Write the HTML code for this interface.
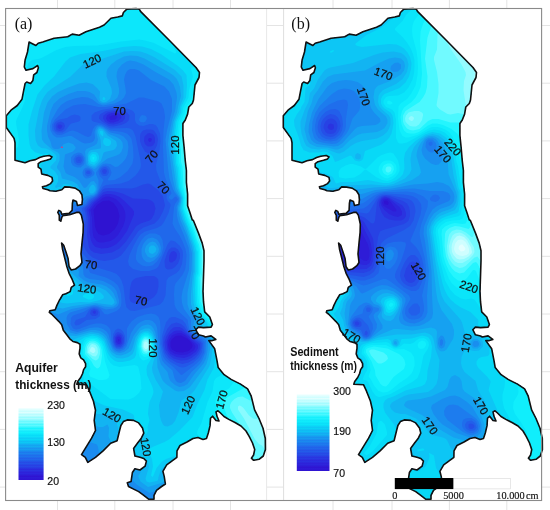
<!DOCTYPE html>
<html><head><meta charset="utf-8"><style>
html,body{margin:0;padding:0;background:#fff;}
body{width:550px;height:510px;overflow:hidden;position:relative;}
svg{position:absolute;left:0;top:0;}
.t{position:absolute;white-space:nowrap;line-height:1;}
</style></head><body>
<svg width="550" height="510" viewBox="0 0 550 510"><defs><clipPath id="ca"><path d="M29.1 42.0 L31.4 43.2 L35.9 45.5 L38.2 43.2 L42.7 42.0 L49.5 39.8 L54.1 38.2 L60.9 37.5 L67.7 36.8 L72.3 34.1 L79.1 35.2 L85.9 31.8 L92.7 29.5 L99.5 27.3 L104.1 25.0 L106.4 22.7 L110.9 18.2 L117.7 17.0 L122.3 15.9 L123.4 12.5 L126.8 9.1 L135.9 8.6 L139.3 9.1 L140.5 11.4 L168.0 39.0 L196.0 67.5 L199.5 72.5 L199.0 77.5 L195.0 85.0 L194.0 95.0 L193.5 100.0 L192.3 103.5 L188.8 107.0 L187.6 114.1 L185.3 120.0 L182.9 123.5 L182.9 135.3 L184.1 147.0 L185.3 161.1 L186.4 170.5 L186.4 182.3 L187.6 194.0 L187.6 205.8 L190.0 212.8 L192.3 219.9 L193.3 220.2 L198.4 232.9 L202.2 243.1 L204.0 250.7 L204.0 260.9 L203.5 276.2 L203.0 291.5 L203.5 301.7 L204.7 311.9 L209.8 317.0 L212.4 324.6 L211.1 327.1 L203.5 327.6 L198.4 327.1 L195.8 329.7 L198.4 334.8 L203.5 336.0 L205.3 337.0 L211.1 335.9 L215.8 339.4 L212.3 340.6 L208.8 340.6 L214.7 348.8 L217.0 360.6 L218.2 367.6 L224.1 374.7 L231.1 379.4 L240.5 384.1 L247.6 388.8 L251.1 395.8 L254.6 409.9 L259.0 418.5 L263.0 428.3 L265.3 438.5 L265.4 449.6 L263.3 456.0 L259.0 459.3 L253.6 460.3 L251.4 458.2 L253.6 455.0 L254.7 449.6 L252.5 443.0 L249.3 436.6 L246.0 431.0 L241.0 426.0 L235.0 422.5 L228.8 419.4 L224.0 416.5 L220.5 413.0 L218.0 410.8 L216.0 411.9 L217.0 416.2 L219.0 421.0 L216.0 420.5 L212.6 416.2 L210.5 418.3 L210.0 425.9 L208.3 433.0 L206.5 438.5 L203.0 439.5 L198.0 437.5 L193.0 438.5 L187.0 442.0 L180.0 445.5 L177.0 450.9 L176.9 457.3 L171.8 461.1 L166.7 464.9 L162.9 471.3 L164.2 476.4 L165.4 484.0 L161.6 486.5 L156.5 490.4 L154.0 495.4 L154.0 499.3 L148.9 499.3 L143.8 495.4 L138.7 491.6 L133.6 489.1 L128.5 486.5 L127.3 482.7 L131.1 481.4 L132.4 472.5 L134.9 468.7 L140.0 470.0 L145.1 466.2 L146.4 461.1 L143.8 458.5 L140.0 457.3 L134.9 456.0 L133.6 448.4 L137.4 443.3 L141.3 438.2 L143.8 433.1 L142.5 428.0 L138.7 422.9 L133.6 420.4 L127.3 419.9 L123.4 421.6 L120.9 425.5 L119.6 430.5 L117.1 440.7 L110.7 443.3 L103.1 450.9 L95.5 457.3 L87.8 462.4 L85.3 457.3 L81.5 454.7 L85.3 448.4 L91.6 438.2 L95.5 430.5 L94.2 420.4 L95.5 410.2 L93.4 401.0 L89.5 391.2 L86.6 384.8 L76.8 384.3 L77.7 381.4 L80.7 377.5 L82.6 373.5 L83.6 369.6 L85.6 366.7 L85.6 363.7 L83.6 359.8 L80.7 357.8 L79.2 353.9 L79.7 350.0 L80.0 348.5 L80.0 344.2 L77.3 342.6 L73.0 341.5 L69.8 338.8 L66.6 334.5 L63.3 330.2 L61.7 324.8 L59.0 321.6 L54.7 317.2 L51.5 314.0 L49.3 312.4 L49.8 310.8 L55.2 309.7 L56.9 305.4 L59.5 300.0 L60.5 298.5 L62.6 294.8 L65.9 293.8 L70.2 291.6 L71.3 287.3 L74.5 285.1 L72.3 279.7 L69.1 273.3 L66.9 266.8 L64.8 258.2 L62.6 249.6 L61.6 243.1 L63.7 245.3 L65.9 251.7 L68.0 258.2 L69.1 266.8 L71.3 270.0 L75.6 269.0 L79.9 265.7 L82.0 262.5 L81.0 253.9 L82.0 243.1 L83.1 232.3 L83.3 224.0 L81.4 215.3 L79.4 212.4 L76.5 212.4 L69.6 214.8 L62.7 215.8 L61.8 217.3 L60.8 221.2 L59.3 220.2 L59.3 215.3 L57.8 212.4 L58.8 210.4 L60.8 211.4 L61.8 214.3 L64.7 213.8 L69.1 213.3 L72.1 210.4 L72.4 203.5 L73.0 200.1 L76.5 201.6 L77.5 205.5 L81.9 204.5 L82.4 199.6 L81.9 194.7 L79.4 190.8 L75.5 188.3 L69.6 187.1 L64.7 186.9 L61.8 189.8 L55.9 191.3 L50.0 190.8 L47.8 189.8 L43.0 188.4 L42.4 186.8 L46.5 185.7 L50.6 183.6 L52.6 180.9 L52.0 177.4 L47.8 175.4 L41.7 174.0 L41.0 169.2 L38.2 167.2 L38.2 163.7 L41.0 161.7 L46.5 160.3 L50.6 158.9 L52.0 156.9 L49.2 155.5 L43.7 156.2 L39.6 157.5 L35.5 159.6 L30.0 160.7 L25.0 162.7 L15.0 160.2 L15.0 142.6 L14.1 138.4 L6.3 127.5 L6.3 115.7 L11.0 110.2 L17.3 105.5 L22.0 99.2 L23.5 91.4 L25.1 83.5 L26.7 82.0 L30.6 83.5 L32.9 80.4 L33.7 74.9 L36.9 72.5 L38.4 67.8 L37.6 65.5 L32.9 68.6 L25.9 70.2 L24.3 67.0 L25.1 60.0 L27.5 52.0 Z"/></clipPath><clipPath id="cb"><path d="M306.1 42.0 L308.4 43.2 L312.9 45.5 L315.2 43.2 L319.7 42.0 L326.5 39.8 L331.1 38.2 L337.9 37.5 L344.7 36.8 L349.3 34.1 L356.1 35.2 L362.9 31.8 L369.7 29.5 L376.5 27.3 L381.1 25.0 L383.4 22.7 L387.9 18.2 L394.7 17.0 L399.3 15.9 L400.4 12.5 L403.8 9.1 L412.9 8.6 L416.3 9.1 L417.5 11.4 L445.0 39.0 L473.0 67.5 L476.5 72.5 L476.0 77.5 L472.0 85.0 L471.0 95.0 L470.5 100.0 L469.3 103.5 L465.8 107.0 L464.6 114.1 L462.3 120.0 L459.9 123.5 L459.9 135.3 L461.1 147.0 L462.3 161.1 L463.4 170.5 L463.4 182.3 L464.6 194.0 L464.6 205.8 L467.0 212.8 L469.3 219.9 L470.3 220.2 L475.4 232.9 L479.2 243.1 L481.0 250.7 L481.0 260.9 L480.5 276.2 L480.0 291.5 L480.5 301.7 L481.7 311.9 L486.8 317.0 L489.4 324.6 L488.1 327.1 L480.5 327.6 L475.4 327.1 L472.8 329.7 L475.4 334.8 L480.5 336.0 L482.3 337.0 L488.1 335.9 L492.8 339.4 L489.3 340.6 L485.8 340.6 L491.7 348.8 L494.0 360.6 L495.2 367.6 L501.1 374.7 L508.1 379.4 L517.5 384.1 L524.6 388.8 L528.1 395.8 L531.6 409.9 L536.0 418.5 L540.0 428.3 L542.3 438.5 L542.4 449.6 L540.3 456.0 L536.0 459.3 L530.6 460.3 L528.4 458.2 L530.6 455.0 L531.7 449.6 L529.5 443.0 L526.3 436.6 L523.0 431.0 L518.0 426.0 L512.0 422.5 L505.8 419.4 L501.0 416.5 L497.5 413.0 L495.0 410.8 L493.0 411.9 L494.0 416.2 L496.0 421.0 L493.0 420.5 L489.6 416.2 L487.5 418.3 L487.0 425.9 L485.3 433.0 L483.5 438.5 L480.0 439.5 L475.0 437.5 L470.0 438.5 L464.0 442.0 L457.0 445.5 L454.0 450.9 L453.9 457.3 L448.8 461.1 L443.7 464.9 L439.9 471.3 L441.2 476.4 L442.4 484.0 L438.6 486.5 L433.5 490.4 L431.0 495.4 L431.0 499.3 L425.9 499.3 L420.8 495.4 L415.7 491.6 L410.6 489.1 L405.5 486.5 L404.3 482.7 L408.1 481.4 L409.4 472.5 L411.9 468.7 L417.0 470.0 L422.1 466.2 L423.4 461.1 L420.8 458.5 L417.0 457.3 L411.9 456.0 L410.6 448.4 L414.4 443.3 L418.3 438.2 L420.8 433.1 L419.5 428.0 L415.7 422.9 L410.6 420.4 L404.3 419.9 L400.4 421.6 L397.9 425.5 L396.6 430.5 L394.1 440.7 L387.7 443.3 L380.1 450.9 L372.5 457.3 L364.8 462.4 L362.3 457.3 L358.5 454.7 L362.3 448.4 L368.6 438.2 L372.5 430.5 L371.2 420.4 L372.5 410.2 L370.4 401.0 L366.5 391.2 L363.6 384.8 L353.8 384.3 L354.7 381.4 L357.7 377.5 L359.6 373.5 L360.6 369.6 L362.6 366.7 L362.6 363.7 L360.6 359.8 L357.7 357.8 L356.2 353.9 L356.7 350.0 L357.0 348.5 L357.0 344.2 L354.3 342.6 L350.0 341.5 L346.8 338.8 L343.6 334.5 L340.3 330.2 L338.7 324.8 L336.0 321.6 L331.7 317.2 L328.5 314.0 L326.3 312.4 L326.8 310.8 L332.2 309.7 L333.9 305.4 L336.5 300.0 L337.5 298.5 L339.6 294.8 L342.9 293.8 L347.2 291.6 L348.3 287.3 L351.5 285.1 L349.3 279.7 L346.1 273.3 L343.9 266.8 L341.8 258.2 L339.6 249.6 L338.6 243.1 L340.7 245.3 L342.9 251.7 L345.0 258.2 L346.1 266.8 L348.3 270.0 L352.6 269.0 L356.9 265.7 L359.0 262.5 L358.0 253.9 L359.0 243.1 L360.1 232.3 L360.3 224.0 L358.4 215.3 L356.4 212.4 L353.5 212.4 L346.6 214.8 L339.7 215.8 L338.8 217.3 L337.8 221.2 L336.3 220.2 L336.3 215.3 L334.8 212.4 L335.8 210.4 L337.8 211.4 L338.8 214.3 L341.7 213.8 L346.1 213.3 L349.1 210.4 L349.4 203.5 L350.0 200.1 L353.5 201.6 L354.5 205.5 L358.9 204.5 L359.4 199.6 L358.9 194.7 L356.4 190.8 L352.5 188.3 L346.6 187.1 L341.7 186.9 L338.8 189.8 L332.9 191.3 L327.0 190.8 L324.8 189.8 L320.0 188.4 L319.4 186.8 L323.5 185.7 L327.6 183.6 L329.6 180.9 L329.0 177.4 L324.8 175.4 L318.7 174.0 L318.0 169.2 L315.2 167.2 L315.2 163.7 L318.0 161.7 L323.5 160.3 L327.6 158.9 L329.0 156.9 L326.2 155.5 L320.7 156.2 L316.6 157.5 L312.5 159.6 L307.0 160.7 L302.0 162.7 L292.0 160.2 L292.0 142.6 L291.1 138.4 L283.3 127.5 L283.3 115.7 L288.0 110.2 L294.3 105.5 L299.0 99.2 L300.5 91.4 L302.1 83.5 L303.7 82.0 L307.6 83.5 L309.9 80.4 L310.7 74.9 L313.9 72.5 L315.4 67.8 L314.6 65.5 L309.9 68.6 L302.9 70.2 L301.3 67.0 L302.1 60.0 L304.5 52.0 Z"/></clipPath></defs><g stroke="#e4e4e4" stroke-width="1"><line x1="57.5" y1="0" x2="57.5" y2="8" /><line x1="57.5" y1="501" x2="57.5" y2="510" /><line x1="114.8" y1="0" x2="114.8" y2="8" /><line x1="114.8" y1="501" x2="114.8" y2="510" /><line x1="173" y1="0" x2="173" y2="8" /><line x1="173" y1="501" x2="173" y2="510" /><line x1="230.5" y1="0" x2="230.5" y2="8" /><line x1="230.5" y1="501" x2="230.5" y2="510" /><line x1="333" y1="0" x2="333" y2="8" /><line x1="333" y1="501" x2="333" y2="510" /><line x1="392" y1="0" x2="392" y2="8" /><line x1="392" y1="501" x2="392" y2="510" /><line x1="449.4" y1="0" x2="449.4" y2="8" /><line x1="449.4" y1="501" x2="449.4" y2="510" /><line x1="506.8" y1="0" x2="506.8" y2="8" /><line x1="506.8" y1="501" x2="506.8" y2="510" /><line x1="0" y1="25.5" x2="5" y2="25.5" /><line x1="542" y1="25.5" x2="550" y2="25.5" /><line x1="267" y1="25.5" x2="283" y2="25.5" /><line x1="0" y1="83.2" x2="5" y2="83.2" /><line x1="542" y1="83.2" x2="550" y2="83.2" /><line x1="267" y1="83.2" x2="283" y2="83.2" /><line x1="0" y1="140.9" x2="5" y2="140.9" /><line x1="542" y1="140.9" x2="550" y2="140.9" /><line x1="267" y1="140.9" x2="283" y2="140.9" /><line x1="0" y1="198.6" x2="5" y2="198.6" /><line x1="542" y1="198.6" x2="550" y2="198.6" /><line x1="267" y1="198.6" x2="283" y2="198.6" /><line x1="0" y1="256.3" x2="5" y2="256.3" /><line x1="542" y1="256.3" x2="550" y2="256.3" /><line x1="267" y1="256.3" x2="283" y2="256.3" /><line x1="0" y1="314" x2="5" y2="314" /><line x1="542" y1="314" x2="550" y2="314" /><line x1="267" y1="314" x2="283" y2="314" /><line x1="0" y1="371.7" x2="5" y2="371.7" /><line x1="542" y1="371.7" x2="550" y2="371.7" /><line x1="267" y1="371.7" x2="283" y2="371.7" /><line x1="0" y1="429.4" x2="5" y2="429.4" /><line x1="542" y1="429.4" x2="550" y2="429.4" /><line x1="267" y1="429.4" x2="283" y2="429.4" /><line x1="0" y1="487.1" x2="5" y2="487.1" /><line x1="542" y1="487.1" x2="550" y2="487.1" /><line x1="267" y1="487.1" x2="283" y2="487.1" /></g><line x1="266.6" y1="8.5" x2="266.6" y2="500.4" stroke="#e8e8e8" stroke-width="1"/><line x1="283.6" y1="8.5" x2="283.6" y2="500.4" stroke="#dedede" stroke-width="1"/><g clip-path="url(#ca)"><rect x="-2" y="0" width="282" height="512" fill="#2f13d1"/><g transform="scale(0.5)"><path fill="#2e1dd8" fill-rule="evenodd" d="M-1 0l558 0 0 1023-561 0 0-1023zM206 402l-12 8-7 10 3 33 3 9 4 6 9 3 12-3 11-9 7-12 3-15-4-15-8-11-9-5zM352 672l-8 6-3 6 0 9 3 6 9 5 12 1 12-3 6-5 2-4 0-3-3-6-8-7-12-6z"/><path fill="#2c28de" fill-rule="evenodd" d="M-1 0l558 0 0 1023-561 0 0-1023zM223 231l-4 3 0 3 2 3 9-1 3-2 2-3-5-4zM205 396l-15 12-9 12 3 15 1 27 2 12 7 9 6 2 6 0 15-3 8-5 7-7 10-17 4-12 1-9-1-9-4-9-7-9-6-6-6-3-9-3-6 0zM356 666l-6 2-6 3-6 9-2 10 2 8 3 4 9 6 12 2 12-1 12-7 3-3 2-6-3-6-17-16-9-5zM236 678l0 5 3-1 0-3z"/><path fill="#2938e2" fill-rule="evenodd" d="M-1 0l558 0 0 1023-561 0 0-1023zM218 228l-4 3-2 6 3 5 6 3 6 0 9-3 6-5 1-3-1-3-3-3-6-2-9 0zM298 276l-2 3 1 3 2 2 3-1 2-4-2-3zM206 390l-18 15-11 15 3 15-1 30 3 16 4 8 5 5 12 3 12-1 9-3 9-5 8-8 13-18 14-33 0-6-4-6-15-15-10-8-9-4-9-2-9 0zM347 663l-9 8-5 13 2 15 6 9 12 6 15 2 12-4 12-9 4-7 0-6-19-18-15-11-9 0zM233 675l-1 9 4 4 3 0 3-4 0-8-3-3-3 0z"/><path fill="#2648e5" fill-rule="evenodd" d="M-1 0l558 0 0 1023-524 0-37-34 0-989zM215 225l-8 6-1 6 4 6 8 5 9 1 9-2 9-4 5-6 0-6-2-3-6-4-12-2zM117 249l-2 3 0 3 4 3 3-1 3-5-3-3zM295 267l-6 6-1 9 2 6 3 3 3 2 6 0 4-2 4-6 0-9-2-5-3-3-6-2zM207 384l-12 12-11 9-10 12-1 3 3 15-2 36 4 24 4 6 6 4 15 3 21-3 15-8 13-14 20-30 9-6 18-6 4-3 5-9 3-12-3-11-4-4-6-3-8-1-24-1-21-10-15-4-15-1zM342 504l-3 6-1 6 0 6 3 3 3 0 6-4 3-5 1-6-1-4-3-3-3-1zM185 624l3 4 3-1 1-3-1-2-3-1zM352 654l-5 1-6 5-8 12-4 12 2 15 7 11 9 7 15 4 12-1 9-4 10-8 6-9 1-9-1-3-16-12-18-18-6-3zM235 669l-5 6 0 9 3 6 6 1 5-4 1-9-3-8-3-1z"/><path fill="#2358e9" fill-rule="evenodd" d="M-1 0l558 0 0 1023-459 0-27-21-27-24-48-49 0-929zM212 222l-11 6-2 3-1 6 6 6 14 9 9 1 15-3 10-4 6-6 1-9-5-6-6-3-9-3-9 0zM114 246l-3 6 2 8 6 2 5-1 4-3 2-6-2-6-6-3zM286 261l-5 6-1 6 0 9 3 9 7 12 6 4 6-1 6-4 6-11 2-12-2-9-6-9-6-2-9 0zM158 318l-1 3 1 1 1-1zM206 339l-2 3 2 5 3 1 3-1 2-5-2-3-3-1zM286 369l-14 6-9 2-45-1-9 1-3 2-11 14-12 9-14 15 0 3 2 6 1 12-5 19-4 11-1 6 4 12 1 6 3 6 6 9 9 8 12 5 12 2 18-3 9-4 6-4 9-11 26-38 10-7 22-8 9-9 8-15 4-12-4-18-9-12-15-12-6-2zM343 495l-5 4-3 5-6 18 1 12 2 3 3 2 9-1 6-4 6-7 4-11 0-9-4-8-6-4zM292 552l-20 4-6 4-3 4-3 12-1 21 2 6 5 3 12 1 18-5 12-8 6-8 3-13 0-9-1-6-3-3-5-3zM188 618l-6 3-2 6 2 3 3 2 6 0 4-2 2-6-3-4zM343 648l-8 9-8 18-1 15 4 15 8 11 15 9 12 3 12-3 12-7 9-10 5-12 0-9-2-3-9-5-9-7-8-9-7-10-6-5-9-3zM232 666l-5 9 1 9 2 6 3 3 6 1 3-1 5-6 1-6 0-6-3-6-3-3-6-2z"/><path fill="#2068eb" fill-rule="evenodd" d="M-1 0l558 0 0 1023-388 0-47-30-45-37-46-47-20-24-15-22 0-863zM226 216l-23 4-14 5-6 6 0 9 3 3 17 4 18 10 33-1 6 1 6 4 5 12 10 48 1 9-1 6-5 9-5 6-14 11-15 5-30 3-6 3-12 18-15 10-7 10-9 6 3 9-2 7-13 11-7 9-4 9 0 12 3 12 6 9 18 14 21 23 6 3 30 9 9 4 6 6 4 7 4 12 4 33 2 9 7 6 9 1 45-11 6-2 6-6 5-12 2-30 4-6 16-9 6-6 5-12 2-18-1-9-6-10-9-8-6-2-3 0-6 8-16 39-3 6-5 4-12 4-18 0-15-4-8-7-2-9 3-12 8-18 10-18 5-6 8-5 24-7 9-5 5-7 9-18 4-15 0-3-6-7-2-5 1-12-1-3-13-21-7-18-1-12 7-30 2-18-1-15-5-12-4-5-6-2-6 0-12 4-9-1-6-5-2-6 0-12-4-6-9-4-8-2zM142 231l-8 5-15 3-6 3-4 4-2 6 1 6 2 4 6 3 9 0 6-4 9-12 3-2 15-4 3-3 0-6-3-3-9-2zM153 315l-2 3 1 6 3 2 6 0 3-5-2-6-4-2zM204 336l-4 6 2 6 4 4 6 0 3-2 3-5-1-6-5-5-3 0zM174 342l-2 3 2 3 5 0 2-3-2-3-3-1zM181 618l-3 3-8 13-18 6-3 5 0 3 3 3 6-1 15-10 18-2 8-5 1-3 0-6-4-6-8-2zM339 636l-7 9-8 27-1 15 4 18 5 10 9 9 18 10 6 1 6-1 15-8 12-11 6-11 2-17-4-6-10-5-12-11-4-5-5-13-6-7-15-6-6 0zM231 660l-5 9 0 15 4 9 3 3 6 1 6-3 4-7 1-6 0-9-4-9-4-4-6-2z"/><path fill="#1d78ed" fill-rule="evenodd" d="M-1 0l558 0 0 1023-309 0-20-12-61-32-18-12-18-14-39-36-32-32-19-24-17-27-10-21-8-24-6-24-4-32 0-733zM278 195l-25 12-41 7-15 0-27-6-12 1-12 2-15 8-21 20-6 10 0 6 1 6 8 8 6 1 6-1 15-7 6-1 9 3 15 8 6 2 3-1 3-2 4-13 4-6 7-3 6 1 18 11 24 3 9 3 6 6 3 5 3 16 1 21-2 12-10 15-14 12-12 6-11 1-3-1 6-9 2-6-3-9-3-3-5-2-6 1-6 4-3 6 1 6 2 5 7 7-12 27-6 6-12 6-6 9-7 5-12 4-3 3 2 3-2 0-4 6-10 9-7 9-4 9-2 9 2 15 6 12 14 15 23 14 8 10 4 12 2 3 31 9 15 8 8 7 4 8 3 10 1 15-1 9-3 5-6 5-18 7-6-1-8-10-5-3-8-1-6 1-15 9-21 7-4 5-1 12 5 9 6 2 6-1 21-8 12-3 12 0 9 3 6 5 3 5 2 21 4 12 6 5 6 1 6-2 6-7 3-9 0-24 5-9 5-6 11-8 15-5 12-2 9 2 6 5 3 8 1 12-1 33 6 26 6 9 16 13 14 15 3-1 27-21 9-9 7-14 1-21-6-6-8-3-6-4-8-8-3-6-3-18-20-18-4-6-2-6-1-21 1-15 2-6 14-17 5-10 2-12 1-18-2-12-6-15-6-12-10-15-4-9 3-33 2-6 6-9-3-5-3-1-6 6-3 0-3-3 0-3 5-6-1-3-11-27-3-12-2-51 1-33 3-27-2-15-5-12-6-4-30-8zM151 312l-4 6 1 6 2 3 4 3 4 1 6-3 3-7-1-6-2-3-6-3zM172 339l-2 3 0 7 3 3 3 1 5-2 3-3-1-6-4-3zM284 230l6 1 3 3 1 3-3 6-4 2-6-1-3-4 2-6zM299 467l12 0 9 4 5 9 2 15-4 15-9 13-9 8-12 2-9-2-8-6-4-6 0-9 3-15 8-15 7-8z"/><path fill="#1a8bef" fill-rule="evenodd" d="M-1 0l558 0 0 1023-251 0-16-15-21-15-70-36-32-20-36-37-48-42-15-18-12-18-9-21-5-21-2-24 3-21 6-18 9-18 11-15 19-21 4-9-3-5-8-4-43-11-42-13 0-621zM260 138l-6 4-4 8-2 9 3 18 1 9-4 9-6 6-13 6-23 4-9-3-12-9-9-4-12-1-15 3-15 5-12 8-7 9-12 21-3 12 1 9 5 9 7 5 9 0 15-3 6 0 21 13 6 2 9-1 6-2 3-3 2-5-1-12 2-6 3-5 6-1 6 2 15 11 18 4 8 4 8 9 2 12-2 15-4 9-6 7-9 8-6 1-9-6-9-1-6 1-6 5-8 12 0 3 5 12 0 9 0 9-4 9-5 4-13 5-8 9-6 3-6 2-3 0-3-2-6 8-22 13-10 15-5 9-3 12 1 9 2 9 5 9 17 18 6 4 30 15 2 5 1 15 3 5 9 4 18 2 9 2 16 8 7 6 4 6 5 18 0 6-2 5-3 3-6 3-15 2-15-6-9-2-48 14-5 5-2 6 1 12 7 12 5 2 9 2 24-8 9-1 9 0 9 3 7 5 4 6 5 18 4 9 7 6 6 1 9-4 5-6 9-27 7-11 6-7 6-4 9-4 9 0 6 2 6 6 3 7 5 44 5 21 5 7 16 14 4 15 3 6 4 3 6 1 8-4 13-18 15-14 6-8 7-17 1-21 0-3-8-7-12-5-9-9-1-6 0-12-1-6-13-18-4-12-1-12 2-12 13-42 1-30-2-15-9-24-11-27-3-12-1-18 5-12 0-6-9-12-3-6-7-21-3-21-5-57 3-18 10-39 0-24-6-15-9-10-27-13-24-19-9-3zM153 306l-6 3-5 6 0 9 3 6 4 3 6 2 6 0 6-5 2-3 0-12-5-8-6-2zM170 336l-3 3-2 6 1 6 4 5 3 1 6-1 8-5 2-3 0-3-5-6-8-4zM296 477l9-2 9 4 5 7 3 9-1 9-5 9-8 8-9 4-6-1-6-5-3-6-1-6 0-9 3-9 4-6z"/><path fill="#169ff0" fill-rule="evenodd" d="M-1 0l558 0 0 1023-209 0-18-24-16-15-6-1-9 3-26-17-10-11-24-13-17-12-22-22-2-5-2-12-2-5-12-4-14-12-34-17-18-11-19-17-15-21-7-18-4-18 1-21 4-18 6-15 9-15 37-42 3-1 9 6 12 3 30-8 9 0 9 2 7 4 6 6 12 27 5 5 9 2 9-2 9-7 10-25 11-15 6-5 6-2 6-1 6 2 5 6 4 9 7 51 4 12 13 15 3 12 3 6 9 8 9 4 9-2 7-4 14-20 18-21 5-10 3-15 1-21-1-3-8-9-19-9-2-6 4-18-11-15-4-12 0-24 8-45 1-33-4-15-6-21-13-30-5-21 0-6 4-12 0-6-9-15-5-21-10-72 2-18 6-30 6-18 4-27-1-10-6-16-9-10-27-15-24-15-15-6-12-2-7 2-9 6-8 9-2 6-1 9 5 24 0 9-3 9-7 6-16 6-9 0-5-3-10-15-9-5-9-2-15 0-18 6-18 9-12 11-6 14-7 30 0 9 2 12 5 10 3 11 3 3 3 1 6 0 3-1 9-9 9-3 9 3 5 6 0 3-5 6-16 6-3 24 4 12 3 3 15 6 9 7 9 14 3 1 3-2 9-11 6-1 5 7 1 9-2 6-4 5-15 3-6 4-21 5-30 16-16 12-10 12-8 15-3 15 3 15 8 12 14 12 30 18 21 8 3 7-1 9 10 8 9 5 27 4 10 4 8 6 6 7 6 14 1 6-2 3-5 4-9 1-9-1-15-4-9 1-42 8-27 11-57-22-63-36 0-571zM200 254l8 4 10 10 15 6 8 5 4 6 1 9-3 9-4 5-6 3-18 6-12 9-12 11-3 1-15-8-3-27 3-5 16-7 5-4 2-8-3-12 0-6 4-6zM299 485l6-2 6 2 5 7 2 6-1 6-4 6-5 4-6 2-7-3-5-9 0-6 2-6z"/><path fill="#12b4f2" fill-rule="evenodd" d="M-1 0l558 0 0 1023-174 0-27-39-12-13-12-10-3 0-3 4-30 9-15-11-4-9 0-3 4-6 0-3-21-12-12-10-12-14-15-24-4-9 1-18-3-6-9 5-9 0-51-22-12-7-11-9-10-10-7-11-7-15-3-15 0-15 2-15 6-15 10-18 20-28 6-3 12 1 30-8 15 2 9 5 6 7 8 21 4 5 9 6 9 1 12-4 8-5 3-6 6-21 10-14 9-4 9 0 6 6 5 12 3 21 2 39 8 21 3 6 6 6 18 13 6 2 12-1 12-8 27-36 6-10 4-14 3-15 0-12 2-9-9-12-18-9-3-3 1-6 6-9-10-12-7-18 0-21 3-36 2-9 0-36-3-15-13-38-7-16-5-18 0-6 3-12 0-6-9-21-12-81 0-15 6-36 7-18 2-12 6-21-2-18-3-9-4-8-6-6-9-6-49-28-14-5-15-1-12 2-14 7-12 9-7 9-2 6 0 9 10 24 1 9-4 12-8 6-6 1-6-4-1-6 1-12-6-7-9-8-12-3-15 2-24 9-18 8-12 9-9 12-7 20-5 36 1 18 4 6 16 14 12 6 3 4 0 12-5 12 0 3 7 9 3 12 22 6 9 6 6 12-3 4-53 20-25 15-14 12-11 12-10 15-16 29-6 7-12 5-15 1 0-501zM200 257l6 2 9 12 17 11 1 3 1 6-3 6-4 3-18 4-2 2-5 15-5 6-6 6-6 0-7-3-2-3-1-18 3-6 4-3 19-3 1-3-1-15-5-15 1-5zM182 371l3-2 3 1 3 5 0 6-3 4-3 2-4 0-2-2-2-4 2-6zM302 491l6 0 3 3 2 4-2 6-6 4-6-2-2-5 1-6zM62 530l12-2 18 1 21 4 21 6 6 4 27 25 6 2 24 4 15 7 6 6 9 11 2 5 0 3-5 4-33-4-45 6-21 5-10-2-31-18-13-12-9-12-8-15-2-12 1-9 3-4z"/><path fill="#0cc8f5" fill-rule="evenodd" d="M-1 0l558 0 0 1023-143 0-23-36-20-26-18-16-21-12-6 2-4 4-5 15-1 6-2 2-15 3-6-2-2-6 7-24-2-6-3-5-18-10-6-6-30-40-5-17 0-9-4-8-9-4-27 0-30-12-12-7-12-9-9-10-6-10-4-9-3-12-1-12 2-12 3-12 7-15 10-18 7-10 6-3 27-9 9 0 9 2 6 4 6 6 9 22 6 8 9 6 12 1 12-3 8-6 3-6 5-21 4-9 4-5 6-4 9-1 6 4 3 4 3 8 3 12 0 18-7 27 1 9 6 15 15 24-8 27 2 23 3 10 3 6 3 3 6 1 9-4 6-7 7-17 6-24 17-11 9-9 30-49 4-18 4-36-4-9-4-5-14-10-1-3 4-9-11-9-4-6-6-21-1-27 2-27 2-9 0-36-3-15-13-39-7-15-6-21 3-21-8-21-5-39-2-9-2-24-2-9 0-15 5-36 8-18 2-12 7-18 0-24-4-18-13-13-42-26-15-7-12-4-15-1-18 1-45 15-24 4-12 6-27 26-36 23-9 7-6 8-5 9-6 18-8 42 1 18 2 6 3 6 7 5 9 1 9 4 9 7 3 4-1 9-11 12 0 3 9 7 6 9 0 11-3 6-3 3 1 3 2 1 3-2 6 0 4-5 5-1 12 2 2 2-1 3-7 4-21 3-39 11-20 9-40 21-21 9 0-432zM206 194l4 1 1 3-2 2-3 0-1-2zM203 261l3 2 1 4-1 6-3-2-3-4 0-5zM209 275l9 3 4 4 0 6-4 4-6 0-5-4-1-6zM182 305l3-1 6 0 4 2 3 6 0 6-3 6-7 6-8-3-3-6 0-9zM113 551l12 0 15 2 11 8 7 10 6 5 24 3 13 6 6 6 1 3-1 3-7 3-21 5-18-1-27 3-9-1-6-2-9-6-7-7-6-9-3-9 1-9 3-5 6-5z"/><path fill="#07dcf8" fill-rule="evenodd" d="M-1 0l558 0 0 1023-112 0-31-48-22-31-18-19-18-13-9 1-15 5-9 6-10 12-6 15-2 3-3-3 4-18-2-15-5-12-1-6 2-3 5-3 24-10 9-5 21-18 26-27 9-24 15-30 6-21 13-24 6-48 0-9-4-9-5-7-9-8-1-3 0-3-5-7-12-12-7-23-1-30 1-24 2-9 0-39-3-12-8-24-12-30-6-21 2-21-8-21-3-39-3-9-1-24-2-12 0-15 4-33 9-18 1-12 9-18 2-24-1-21-7-9-10-9-33-23-21-11-18-5-15-1-24 2-39 8-45 6-21 7-9 8-23 30-19 18-14 18-11 33-7 27 0 21 2 18 3 9 9 8 15 4 6-2 6 1 6 7-6 5-6 0-11 10 3 9-1 6-6 5-45 19-18 6-18 3 0-378zM185 308l6 1 3 6-1 6-5 4-6-2-2-5 1-6zM128 572l9-2 6 2 3 10 0 6-3 2-6 2-9-2-4-2-2-4 0-5 3-6zM170 588l9-1 6 1 3 3 0 3-2 3-4 2-6 0-10-5 0-3zM290 665l6 1 7 6 4 9 2 15-3 15-12 21-1 6 1 12 11 24 2 9-1 6-7 15-2 12-1 12 3 12-4 15 1 6-2 6-4 2-6-5-12-18-3-6-1-9-3-3-19-9-37-8-33-15-15-10-10-9-7-12-5-12-1-12 3-18 12-33 6-9 10-6 16-4 9 2 6 3 8 8 7 21 6 10 9 7 6 2 9 0 15-3 9-5 3-6 2-20 3-12 6-9z"/><path fill="#0ce7fb" fill-rule="evenodd" d="M68 1l0-1 489 0 0 1023-81 0-45-69-17-30-9-21-6-27-5-9 1-6 8-15 12-42 10-21 3-21 4-6 11-6 2-3 1-6-3-54-2-12-7-12-12-12-21-24-7-21-1-51 3-9 0-42-3-6 0-6-8-24-13-33-6-18 1-21-6-21-3-39-3-9-1-24-2-9 1-18 4-33 8-18 1-9 11-21 1-15 8-27-4-15 1-3 12-1 6-14 0-17-5-16-7-10-9-8-9-5-12-1-9 3-12 10 0 2 14 24 1 3-3 2-42-21-18-5-12-2-36 4-48 8-45 1-18 2-18 6-30 16-6 2-13 2-7 6-4 11-4 1 2 6-1 57-6 16-10 20-2 6 1 9 5 27-2 15-12 9-7 4-9 2-12 1 0-184 12-1 15 2 16 5 8 4 2-13 3-3 0-9 2-3 0-9 3-3 0-9 1-3-2-24 2-24 4-18zM266 15l11 0-5-2zM278 18l3 3 3 0-6-6zM74 125l3 1 2 6-4 12-4 3-10-6 4-6 3-1 3-7zM185 314l3 0 1 1-1 4-3 0zM290 669l6 0 6 6 4 9 1 12-1 9-4 7-6 6-9 3-3-1-5-6-2-9-1-12 4-15 4-6zM182 675l12 1 9 7 5 10 7 24 6 9 6 5 12 3 30-4 6 2 2 3 4 18 2 24-5 9-9 8-6 3-6 2-36-1-44-33-10-3-2-21 0-21-4-9 2-18 5-12 5-4z"/><path fill="#13f2fd" fill-rule="evenodd" d="M458 0l99 0 0 1023-49 0-56-84-12-24-8-21-4-21-2-18 3-21 5-12-3-15 0-6 3-7 6-7 18-10 9-12 1-6-1-9-13-63-5-15-11-15-19-15-14-15-7-21-2-18 0-33 2-9 0-42-2-12-9-27-13-30-6-18 1-21-2-12-3-9-3-42-3-9 0-24-2-9 4-45 9-18 2-12 12-18 3-9 3-3 26-15 19-18 12-19 10-23 5-24 3-27-1-24-6-36zM290 672l6 0 3 3 5 9 1 9 0 6-3 8-6 5-6 2-3-1-5-5-2-6-2-9 2-9 2-6 5-5zM182 678l7 0 7 3 6 6 3 6 5 30 9 27-2 6-5 3-6 1-9 0-17-7-2-6 3-9-3-12-5-10-6-5-1-9 1-9 4-9 5-4z"/><path fill="#36f6fe" fill-rule="evenodd" d="M515 0l42 0 0 1023-16 0-66-96-12-21-8-21-3-24 3-27-7-18-1-12 2-4 5-5 34-19 2-8-1-12-8-30-16-42-7-15-6-9-9-9-21-14-13-13-8-21-2-48 2-9 0-42-3-15-4-9-4-15-13-30-6-21 0-18-2-15-2-6-2-42-3-9 0-24-2-9 5-44 9-13 11-9 40-24 21-17 21-22 18-27 12-27 9-33 6-36 1-39zM290 674l6 1 3 3 4 12-1 12-3 4-6 3-6-1-3-3-3-12 2-12 4-5zM185 681l6 1 6 4 3 4 3 9 1 12-2 15-2 7-3 3-3 1-6-5-5-9-13-15 0-12 3-8 6-6z"/><path fill="#61f9ff" fill-rule="evenodd" d="M557 19l0 977-57-81-13-21-6-12-3-12 0-24-14-21-4-9 0-6 3-6 6-6 7-4 9-1 15 8 3-2 4-10 2-12-1-24-4-15-7-18-14-30-12-21-17-21-32-24-8-12-7-13-3-14-2-27 2-9 0-48-2-6 0-6-4-9-4-15-18-51-3-33-2-6-1-45-2-6 3-31 12-20 21-20 45-34 24-21 22-24 19-27 16-30 12-30 9-33zM290 677l6 1 3 3 2 9 0 6-2 6-6 4-3-1-4-3-3-9 1-10 3-4zM179 686l3-1 6 0 6 3 4 5 2 6 0 9-3 9-3 3-3 1-6-3-12-13 1-12z"/><path fill="#89fbff" fill-rule="evenodd" d="M557 135l0 808-30-48-3-4-6-3-8-9-22-42-12-18 0-6 3-2 3 1 5 4 11 15 8 6 6 1 4-1 2-3 5-15 6-24 1-21-2-18-5-18-7-18-11-21-14-24-21-27-38-33-7-10-6-14-5-18-3-21-3-81-16-72-2-30 1-21 4-21 6-16 9-15 20-23 52-45 28-27 26-33zM290 680l3 0 3 1 3 9-1 9-5 3-3 0-3-3-2-6 1-9zM182 689l3-1 6 2 4 6 1 9-2 5-3 3-6-1-9-7 1-9z"/><path fill="#affcff" fill-rule="evenodd" d="M557 189l0 681-4-24 1-48-2-24-4-24-9-24-14-27-17-27-23-28-37-35-8-12-6-15-5-33-2-81-8-60-1-21 1-21 4-18 7-18 11-18 20-24 66-64zM290 683l4 1 3 6-1 6-3 2-3 0-3-5 1-6zM182 695l3-1 4 2 2 6-3 4-3 0-6-4z"/><path fill="#ccfeff" fill-rule="evenodd" d="M557 235l0 482-13-24-17-24-22-27-38-39-6-9-6-12-5-18-2-21 0-69-1-60 1-24 4-21 6-18 10-18 23-30z"/><path fill="#e3ffff" fill-rule="evenodd" d="M557 279l0 397-22-28-39-45-13-18-6-12-4-15-3-36 5-96 4-27 6-21 9-21 15-23 18-22z"/><path fill="#eeffff" fill-rule="evenodd" d="M557 329l0 310-34-42-15-24-5-12-4-15-2-33 1-30 3-30 5-26 6-22 8-21 10-18z"/></g></g><g clip-path="url(#cb)"><rect x="275.0" y="0" width="282" height="512" fill="#2f13d1"/><g transform="scale(0.5)"><path fill="#2e1cd7" fill-rule="evenodd" d="M553 0l558 0 0 1023-561 0 0-1023zM768 402l0 3 1 3 6 2 2-2 0-3-2-3-3-1z"/><path fill="#2c26dc" fill-rule="evenodd" d="M553 0l558 0 0 1023-561 0 0-1023zM767 399l-3 6 2 6 6 4 15 8 5 0 1-3-2-3-11-15-5-4-3 0zM712 462l-12 9-7 9-4 12 1 9 4 6 3 3 18 3 12 8 6 1 4-3 2-9 0-9-3-12-15-28-3-1z"/><path fill="#2a33e0" fill-rule="evenodd" d="M553 0l558 0 0 1023-561 0 0-1023zM768 396l-5 3-2 6 2 7 6 8 9 8 9 4 9 2 6-3 2-2 0-6-5-9-21-17-6-2zM715 447l-20 9-16 14-5 7-3 9-1 15 7 15 8 8 6 4 9 1 18-1 9 2 6 0 6-4 3-7 2-15-2-15-4-12-14-27-3-3z"/><path fill="#2742e4" fill-rule="evenodd" d="M553 0l558 0 0 1023-561 0 0-1023zM657 249l-2 6 3 4 6 1 3-2 1-3-1-6-6-2zM763 396l-4 6-1 9 5 14 6 9 9 5 12 2 12 0 6-3 4-6 0-6-3-9-4-6-27-16-9-2zM718 438l-21 6-17 9-14 12-9 15-2 15 5 15 11 15 17 12 9 2 36-1 9-7 4-9 2-27-2-18-6-12-12-21-4-4zM822 546l1 4 1-4-1-1z"/><path fill="#2550e7" fill-rule="evenodd" d="M553 0l558 0 0 1023-561 0 0-1023zM661 237l-6 2-4 4-3 6-1 6 4 9 4 3 6 1 6-1 4-3 3-6 1-6-1-6-4-6-6-3zM764 393l-7 6-3 6-4 36-2 5-3 1-3-1-13-11-5-2-6-2-9 1-20 6-19 9-12 9-10 12-4 9-2 9 0 9 3 9 4 9 7 9 19 15 10 5 9 2 33 2 12-4 6-5 4-9 7-54 4-11 6-3 42-12 6-4 3-3 3-9 0-9-2-9-4-7-8-5-28-10-6-1zM820 525l-8 12-4 15 4 9 5 4 6 1 6-3 3-5 3-9 1-9-2-9-3-6-5-2zM710 645l0 3 2 3 4 0 3-3-1-3-3-2-3 0z"/><path fill="#225fea" fill-rule="evenodd" d="M553 0l558 0 0 1023-561 0 0-1023zM654 231l-7 6-4 7-2 8 1 9 4 7 6 4 9 2 6-1 6-4 6-8 2-9-1-9-4-8-6-5-9-2zM766 390l-7 3-6 6-14 24-3 3-3 1-21-3-30 8-15 6-12 6-9 7-8 8-6 9-3 9-1 9 0 9 3 9 5 9 14 15 24 15 20 6 33 5 12-4 9-7 5-9 5-33 5-15 6-6 6-4 33-16 12-8 7-11 4-18-1-9-2-6-4-6-7-4-39-8zM822 510l-7 6-6 9-8 18-1 9 3 9 5 6 6 4 9 3 9-3 5-7 4-12 1-12-2-15-4-9-7-6zM714 639l-6 3-2 3 2 6 4 3 8 0 3-3 0-6-5-5zM730 663l-1 6 4 2 3-5-3-5zM937 849l0 6 3 3 4 0 4-3 1-3-3-4-6-1z"/><path fill="#1f6eec" fill-rule="evenodd" d="M553 0l558 0 0 1023-561 0 0-1023zM661 219l-9 4-9 9-6 11-2 12 2 9 6 9 9 5 9 1 9-2 9-7 5-9 2-12-2-15-5-11-3-3-6-2zM769 387l-9 2-7 4-17 18-9 6-30 3-18 4-24 8-18 10-14 14-8 15-3 15 3 15 6 12 8 9 11 9 15 9 30 12 36 9 9 0 17-6 10-9 2-9 2-30 3-9 5-6 6-5 12-3 15-1 9 2 1 4-2 9-8 24-10 21-2 6 0 6 6 9 12 11 15 7 9 0 6-5 6-13 3-15 0-18-3-14-6-14-6-9-11-11 0-3 11-26 9-25 2-12-1-9-7-10-8-5-7-2-12-2zM825 609l-8 9 0 6 6 7 9 0 6-4 2-3 0-9-5-8-6 0zM734 615l-2 3 1 5 3 1 3 0 2-3 1-3-3-3zM712 636l-7 6-1 6 2 5 6 4 10 3 5 12 6 2 3-1 3-4 1-6-4-12-12-13-6-3zM934 843l-4 6 1 6 2 3 7 4 9-1 4-6-3-9-7-5z"/><path fill="#1d7cee" fill-rule="evenodd" d="M553 0l558 0 0 1023-561 0 0-1023zM676 201l-18 8-12 9-7 7-6 12-3 15 1 12 2 6 4 6 9 5 15 2 12-2 10-8 7-12 2-9 0-15 4-27-1-6-1-3-6-2zM858 285l-1 3 2 3 3 1 3-3 0-4-3-2zM791 384l-22 0-9 2-12 5-21 15-24 6-9 0-30 7-18 5-15 7-18 13-11 15-6 15-1 18 7 18 11 14 18 13 21 9 54 16 15 7 6 2 9-2 30-11 6 0 9 5 37 28 3 6-1 3-9 16-1 11 3 6 4 4 6 2 6 0 9-2 5-4 3-6 2-6 0-9-4-21 7-30 1-24-2-18-10-45-1-9 3-15 13-36 1-12-9-9-18-8-15-2zM866 390l-6 6 0 3 2 3 9 2 6-3 3-5-3-5-6-2zM731 612l-4 6-2 9-16 6-6 6-2 6 1 6 4 6 13 6 8 12 6 1 7-4 6-15-1-9-8-15 7-9 2-6-2-3-5-4-3-1zM931 837l-5 3-2 6 0 6 3 6 7 6 6 2 6 0 6-3 4-5 0-6-4-10-9-6-6 0zM775 495l6-2 9 2 5 6 1 6-1 9-5 11-9 10-6 1-3-1-4-6-3-15 2-12 4-6z"/><path fill="#198eef" fill-rule="evenodd" d="M553 0l558 0 0 1023-561 0 0-1023zM688 177l-12 3-12 8-24 23-9 14-6 18-1 18 4 14 3 4 6 4 12 3 15 2 9-1 6-4 14-16 5-9 7-21 13-15 2-6 0-9-1-9-5-9-5-6-6-3-6-2zM857 279l-4 3-1 3-1 9 5 8 6 3 3 0 3-2 4-6 1-6-2-6-6-6zM806 378l-52 6-10 3-20 11-21 5-54 9-30 10-20 13-14 15-9 18-2 9 0 12 3 12 6 12 9 12 12 9 15 9 15 5 69 18 10 7 8 12 3 2 6-2 21-11 12-4 12 1 15 7 14 10 7 9 0 6-7 21 2 12 2 4 6 4 6 2 9 1 9-3 9-5 5-6 3-9-1-33 4-48-8-60-3-15 1-15 9-21 8-13 9-7 24-10 2-3 1-6-3-6-3-2-9-3-27 0-30-5zM728 606l-10 6-15 20-3 7-1 9 4 9 14 9 10 11 6 1 6-2 4-4 10-15 1-9-6-12-1-6 4-5 6-3 1-4-1-2-9-2-9-7-6-2zM880 681l0 9 3 2 3-5 0-6-3-3zM898 810l-6 4-4 8 1 9 6 9 31 24 8 4 6 2 6 0 9-4 3-5 2-9-3-9-5-6-36-26-9-2zM778 500l3-1 4 2 3 6-1 6-3 6-6 4-3-1-3-2-1-7 2-9z"/><path fill="#16a1f1" fill-rule="evenodd" d="M553 0l558 0 0 1023-561 0 0-523 5 13 10 13 12 11 15 9 15 6 15 4 60 8 18 6 5 3 3 6 2 12-2 6-6 9-2 6-4 36 3 9 2 3 14 9 9 9 6 2 9-2 26-21 0-6-10-18 7-12-1-6-4-4-9-3-6-8 0-6 5-6 7-5 9-4 12 0 12 4 9 6 8 8 1 9-7 30 1 6 3 5 8 4 10 2 18-1 10-4 10-6 6-6 2-9-2-36-1-48-7-60-3-18 1-12 6-15 8-11 12-9 18-6 6-4 4-6 1-9-2-8-9-13-12-6-12-2-18 3-30 2-42 8-33 3-24 7-30 7-66 9-30 9-23 14-17 18-7 12-4 10 0-466zM789 126l-7 6-1 6 1 3 5 3 9-1 6-6 0-8-6-4zM676 162l-12 4-9 7-18 25-13 27-6 24-1 15 5 15 6 6 6 3 33 5 9-1 9-6 24-27 6-5 9-2 27-2 6-3 4-4-1-6-12-12-6-9-11-36-7-10-9-6-12-3-12-1zM856 276l-6 4-4 8-3 12 2 9 5 8 12 10 9 3 6-1 6-6 2-8 0-9-5-15-5-9-4-4-6-3zM881 672l-4 5-1 10 2 6 2 3 3 1 3-1 3-3 2-9-3-9-2-3-3-1zM946 684l-1 6 4 4 6-1 3-3 0-4-3-4-6 0zM900 792l-16 6-20 12-2 6 5 12 9 12 9 9 28 17 27 9 9-1 6-2 5-5 3-6 0-12-3-9-16-27-10-9-15-10-9-3z"/><path fill="#12b4f2" fill-rule="evenodd" d="M553 0l558 0 0 1023-561 0 0-473 21 10 21 6 24 2 57-1 13 3 13 6 4 6 1 6-2 6-8 9-2 6-3 18 3 21 5 13 27 20 6 1 7-1 17-9 33-14 9 0 30 3 36-6 9 3 3 5-1 21 2 12 5 6 3 1 6-1 4-3 13-21 2-9 0-9-4-12-21-28-8-20-3-18-4-39-10-84 5-15 11-14 9-6 18-6 6-4 5-9 2-12-2-9-15-36-2-33-6-21-4-9-8-8-7-4-8-1-6 1-6 3-8 9-5 9-3 9-1 9 8 27 1 6-4 6-14 9-25 9-18 4-33 2-24 3-12 0-33 8-45 1-27 4-30 9-27 16 0-416zM778 117l-18 8-30 16-63 8-12 5-9 9-10 17-9 12-4 15-7 15-5 24-2 12 2 9 3 12 5 8 6 3 9 4 21 1 15 4 6 0 9-4 15-15 15-10 9-3 30-3 9-4 6-4 6-10 0-6-3-7-16-14-6-9-3-15 2-15 4-6 4-3 21-8 24-14 6-8 2-9-2-9-6-6-12-2zM947 678l-6 6 0 6 5 7 9 0 5-4 2-3-1-6-6-6zM788 684l0 3 2 2 3 0 1-2-1-4-3-1zM903 753l-4 6-4 15-5 6-28 13-21 5-25 3-5 3-3 6 2 3 4 3 30 14 12 9 17 16 34 20 36 10 12-1 6-4 3-4 4-9 1-9 0-9-7-18-4-22-7-11-22-15-4-6-2-15-4-7-9-5zM766 587l9-1 12 3 9 6 5 8-1 9-4 11-9 15-6 4-9-1-7-5-2-6 2-9-1-6-4-6-8-6 0-3 3-6 5-4z"/><path fill="#0dc6f5" fill-rule="evenodd" d="M772 1l339-1 0 1023-561 0 0-435 21 3 24-1 18-4 35-10 19-3 12 0 12 4 6 5 2 6-10 12-3 6-1 8-5 13 7 15 1 9 5 12 10 10 20 11 13-1 21-8 36-6 30 0 27-4 9 3 5 4 3 6 4 21 8 21-3 36-3 12-7 9-10 7-39 5-9 3-17 9-7 4-3 4-1 4 3 6 7 6 12 3 9 0 21 9 13 12 14 17 6 4 21 5 6 3 3 4 6 13 3 3 18 12 12 6 15 1 15-5 6-4 6-7 6-15 1-13-2-15-6-27-2-15-3-12-14-24-5-18-22-18-5-9-2-9 1-12 8-17 3 0 9 4 6 1 9-1 8-8 0-9-5-8-6-3-9-1-12 2-3-4-7-25-3-6-32-36-6-12-3-12-10-60-8-54 1-12 7-12 10-9 30-12 5-9 2-12 0-15-3-6-7-27-7-48-6-15-6-9-11-8-12-3-12 3-12 8-13 15-5 12-2 12 2 21-4 9-9 9-23 11-15 3-30-2-21 1-24 0-12 2-9 3-12 1-6 0-9-5-6-1-33-1-30 4-30 8 0-333 51-5 66 1 36-5 24-7 19-8 17-12zM765 105l-17 5-42 16-45 9-6 2-6 4-13 18-8 18-8 9-3 18-7 14-9 25 0 9 2 15 6 18 4 7 9 5 15 2 6-1 12 1 18 7 6 1 9-4 15-12 9-5 12-4 30-5 12-6 8-7 4-7 3-8 0-12-3-6-14-12-5-6-3-9 1-12 3-6 6-6 26-12 13-10 9-14 3-15-3-12-6-7-6-4-15-3zM711 309l-1 6 2 3 6 1 3-2 1-5-1-3-6-3zM790 678l-4 3-1 6 2 3 6 2 3-2 2-6-2-4-3-2zM769 594l9-2 9 1 6 4 4 6 1 6-3 9-8 10-6 4-9-1-4-4-1-12-6-12 3-6z"/><path fill="#08d9f7" fill-rule="evenodd" d="M808 2l0-2 303 0 0 1023-561 0 0-373 45-1 18-2 9-4 3-4 5-24 8-15 13-12 16-8 9-1 6 1 6 3 3 5-10 15-1 6-4 8-5 7-4 3 9 15 2 6-2 3-3 0-27-3-9 0-4 3-1 9 4 18 9 18 13 15 18 13 42 18 10-7-1-12-2-6-6-3-2-3 2-15 4-6 4-2 27-8 22-2 5 3 3 9 4 3 5 1 6-4 3-10 2-2 19-1 21-6 9 2 4 2 4 6 3 12-2 21-7 27-1 18-4 9-6 4-33 9-24 12-12 4-5 4-3 6 0 9 3 9 18 24 4 9 8 27 6 42 5 12 5 6 1 1 9-6 6 3 6-1 13-9 7-15 1-6-1-6 1 0 9 5 4 25 8 13 36 9 15 0 15-2 18-6 15-11 12-15 10-21 2-12 0-12-5-42-4-18-17-39 4-15 0-3-7-9-18-18-3-6 0-6 4-6 6-3 13-2 3-4 0-15-3-15-18-24-2-6 1-6-1-3-15-15-19-9-12-8-9-8-6-8-6-12-4-12-11-48-8-54 2-12 6-9 9-7 9-4 22-7 3-3 4-21 0-18-4-9-12-72-7-18-5-9-13-9-15-3-15 5-19 13-13 12-8 12-2 12 1 18-3 12-5 6-8 6-15 6-12 0-30-6-30 4-24 0-9 3-2-1-4-10-3-3-12-6-18-4-27-2-57 0 0-194 30 5 36 10 4 3 1 3-2 3-6 3-2 3-2 27-6 9-2 6-7 9-6 12 1 12 9 24 4 15 5 9 12 5 18 0 9-2 9 1 10 8 5 12 6-2 24-11 3 1 7 9 8 2 5-2 3-3 4-16 33-13 9-7 6-6 5-9 2-9 2-12-1-9-1-6-4-6-12-8-4-4-3-6 0-9 3-6 4-4 30-12 12-11 7-12 4-15 1-12-3-12-5-9-7-8-6-4-9-4-15-1-54 6-9-2-4-2 0-3 22-17 30-15 15-13 14-9 9-12zM664 101l3-1 1 2-4 3-5 0 2-3zM775 597l6-1 6 1 4 3 3 6 0 6-4 7-6 5-6 2-3-1-3-2-4-17 2-6zM844 897l3 0 2 3-2 1-12 2 0-4z"/><path fill="#0ae5fa" fill-rule="evenodd" d="M832 0l279 0 0 1023-218 0 35-10 24-11 24-16 18-17 14-21 11-24 6-27 1-27-2-24-16-30-3-15 0-12 4-15 1-9-5-63-3-15-5-15-10-18-23-30-8-15-7-10-6-2-12 2-9-2-12-7-9-10-11-19-10-39-9-57 1-9 6-9 11-8 29-7 3-3 2-9 2-24 0-15-3-6-6-42-3-9-3-22-7-20-5-9-9-8-9-4-12-2-12 3-42 23-9 2-6 0-3-2-4-9 0-36-3-15-5-6-12-5-5-7 0-6 5-7 6-2 18-1 12-6 9-10 8-16 3-12 1-15 0-12-3-12-5-12-7-11-9-11-15-14 0-3 15-15 7-12 12-12zM775 306l6-1 6 2 9 14 3 12 0 9-3 6-5 6-7 5-9 3-11-2-12-6-19-14-3-1-9 9-12 7-18 2-12-2-1-1-1-9 2-5 3-4 9-5 9-3 6 0 16 5 8 5 3-1 22-22 8-5zM781 600l3 0 5 3 2 6-4 8-3 2-6 1-3-2-3-9 2-6zM838 677l9-1 5 2 5 6 1 6-2 7-9 14-7 33-5 12-9 7-45 25-21 6-3 0-6-3-6-8-9-19-3-3-8-2 5-12 4-6 1-6-1-12-5-9-6-6 1-9 3-6 6-4 12-3 27-2 6 2 9 9 6 1 6-2 9-7 12 1 6-2zM553 829l25 8 23 10 17 11 12 12 6 9 5 12 16 57 11 27 9 15 9 12 13 12 12 9-161 0 0-195zM760 842l3 0 7 7 4 15 0 6-29 33-12 8-5-5 11-13 14-26 3-21zM850 957l4 0 1 3-3 15-2 3-9-9-7-3 0-3 4-5z"/><path fill="#10eefc" fill-rule="evenodd" d="M853 0l258 0 0 1023-115 0 22-29 16-31 10-33 8-33 2-18-1-15-3-6-11-18-9-12-4-12 1-12 9-15 1-6-3-18-5-51-4-24-7-21-11-21-13-18-33-42-9-15-3-3-3-1-12 8-6 3-6-1-9-4-9-8-6-9-13-33-4-18-2-24-3-18 0-6 7-9 9-6 12-3 15-1 6-3 4-8 0-15 4-18-1-21-9-45-3-6-4-24-11-27-7-9-6-4-9-4-9-2-9 0-6 2-24 14-18 5-6 0-6-3-3-5-3-7-3-23 1-24 4-6 13-9 9-12 8-15 4-21 1-15-1-18-2-15-8-30-1-12 1-9 3-9 11-15 13-27zM778 201l6 3 1 3-4 2-3 0-4-2 1-5zM772 321l9 0 6 3 5 6 1 6 0 6-3 6-6 5-9 4-6-1-7-5-4-6-1-6 1-6 4-6 4-4zM781 605l4 1 2 3-3 4-3 1-3-2 0-3zM844 681l6 2 2 4 0 3-2 4-3 3-6 1-4-2-2-6 3-6zM742 690l30 0 18 9 18-1 14 7 6 9 1 9 0 9-3 9-3 6-9 9-15 10-17 14-7 4-9 1-9-3-9-11-6-12-5-6 4-12-2-15-5-12-7-9 3-9 3-3z"/><path fill="#24f5fe" fill-rule="evenodd" d="M871 3l1-3 239 0 0 1023-67 0 13-30 9-30 16-66 4-33-4-24-20-66-13-75-11-33-11-21-12-18-57-69-6-16-3-2-3 0-12 16-6 5-6 1-6-1-9-7-9-12-6-13-5-16-4-45 1-9 6-6 11-5 9-2 15 2 6-1 2-3 3-12 11-33 2-18-2-21-8-39-9-27-7-15-9-12-11-9-17-8-12-3-9 0-9 4-18 13-9 3-9 0-6-1-6-5-5-12-2-15 3-12 4-7 15-11 8-9 5-9 5-12 3-27-4-66 1-18 5-15zM775 327l6 0 3 2 3 4 1 6-4 8-9 4-6-3-3-3-2-6 2-6 2-3zM736 696l12-3 27 4 23 11 7 6 4 6 2 9-3 9-21 16-10 14-5 5-6-1-5-4-10-17-1-10-7-18-11-18 0-6z"/><path fill="#4bf8ff" fill-rule="evenodd" d="M895 0l216 0 0 841-22-73-14-57-7-24-12-30-16-27-29-36-47-49-9-18-3-3-6 2-18 19-9 2-9-4-6-6-6-9-6-15-3-21 1-24 2-6 7-6 11-4 9 1 18 5 3-3 3-11 12-27 7-21 3-27-3-33-8-36-10-27-13-18-9-8-6-2-15 0-24-7-12 0-9 4-17 16-13 3-6-1-6-3-6-8-2-6 0-12 5-9 28-18 7-9 5-9 3-12 1-21-5-36 5-42 7-21zM775 333l5 0 3 3-1 6-4 3-3 0-3-2-1-4 1-4zM739 701l3-2 6 0 19 6 7 6 2 6-2 3-5 4-6 3-6 0-3-2-12-14-4-9zM1111 909l0 114-26 0 13-48z"/><path fill="#71faff" fill-rule="evenodd" d="M922 0l189 0 0 744-17-51-15-36-20-33-27-33-29-30-39-35-9-13-6 2-18 17-6 3-6 1-9-4-6-6-6-9-3-10-1-15 3-18 2-6 5-6 9-3 9 1 10 5 11 9 3 0 4-15 18-36 7-18 4-18 3-21-1-30-5-30-9-27-11-21-13-15-18-15-9-2-15 3-6-1-15-9-6-6-1-3 4-24 0-18-3-24-6-24 0-6 6-15 1-30 7-12zM829 222l9 0 6 3 2 3 0 3-2 9-6 9-6 4-6 0-6-1-6-5-3-4-1-6 2-6 5-6z"/><path fill="#94fbff" fill-rule="evenodd" d="M952 0l159 0 0 673-22-40-27-36-34-36-56-48-8-9-5-12-1-9 3-12 24-51 11-33 4-36-2-36-8-33-13-27-16-20-26-22-4-6-4-27 1-18 4-12-1-6-8-15-21-30-5-9 0-6 7-15zM820 233l3-1 4 2 1 3-2 4-3 1-4-2-2-3zM910 467l9-2 6 2 6 4 6 6 11 18 1 9-3 6-9 9-12 7-9 0-6-3-6-7-5-12-1-12 3-12 4-9z"/><path fill="#b7fdff" fill-rule="evenodd" d="M985 0l126 0 0 627-17-24-21-24-28-28-51-44-10-12-4-9 0-9 3-9 21-48 10-33 5-33-1-36-7-36-12-30-17-26-28-31-7-12-2-15 5-21-2-9-5-42 2-15 6-18zM913 473l6-2 9 3 6 6 8 15 2 9-1 3-6 6-9 5-9 1-6-2-6-7-3-6-1-9 1-7 3-8z"/><path fill="#cffeff" fill-rule="evenodd" d="M1021 1l90-1 0 589-30-33-56-55-9-12-4-12 2-18 16-51 7-30 3-30 0-30-4-30-9-31-9-22-23-43-6-15-4-21 0-33 2-30 5-24 10-27zM916 480l6-1 4 1 5 4 5 8 2 6 0 6-1 3-4 3-8 2-6-1-6-3-3-4-2-6 1-6 2-6z"/><path fill="#e4ffff" fill-rule="evenodd" d="M1060 0l51 0 0 552-36-39-15-18-9-17-3-16 1-21 13-75 1-27 0-27-4-27-5-26-26-85-3-21-1-24 3-30 6-30 11-33zM922 489l3 0 5 6 1 3-3 4-6 1-5-5 1-6z"/><path fill="#eeffff" fill-rule="evenodd" d="M1099 0l12 0 0 508-11-16-9-15-4-12-3-15-1-27 5-75 0-42-5-45-16-81-3-33 2-33 6-36 11-39z"/></g></g><path d="M29.1 42.0 L31.4 43.2 L35.9 45.5 L38.2 43.2 L42.7 42.0 L49.5 39.8 L54.1 38.2 L60.9 37.5 L67.7 36.8 L72.3 34.1 L79.1 35.2 L85.9 31.8 L92.7 29.5 L99.5 27.3 L104.1 25.0 L106.4 22.7 L110.9 18.2 L117.7 17.0 L122.3 15.9 L123.4 12.5 L126.8 9.1 L135.9 8.6 L139.3 9.1 L140.5 11.4 L168.0 39.0 L196.0 67.5 L199.5 72.5 L199.0 77.5 L195.0 85.0 L194.0 95.0 L193.5 100.0 L192.3 103.5 L188.8 107.0 L187.6 114.1 L185.3 120.0 L182.9 123.5 L182.9 135.3 L184.1 147.0 L185.3 161.1 L186.4 170.5 L186.4 182.3 L187.6 194.0 L187.6 205.8 L190.0 212.8 L192.3 219.9 L193.3 220.2 L198.4 232.9 L202.2 243.1 L204.0 250.7 L204.0 260.9 L203.5 276.2 L203.0 291.5 L203.5 301.7 L204.7 311.9 L209.8 317.0 L212.4 324.6 L211.1 327.1 L203.5 327.6 L198.4 327.1 L195.8 329.7 L198.4 334.8 L203.5 336.0 L205.3 337.0 L211.1 335.9 L215.8 339.4 L212.3 340.6 L208.8 340.6 L214.7 348.8 L217.0 360.6 L218.2 367.6 L224.1 374.7 L231.1 379.4 L240.5 384.1 L247.6 388.8 L251.1 395.8 L254.6 409.9 L259.0 418.5 L263.0 428.3 L265.3 438.5 L265.4 449.6 L263.3 456.0 L259.0 459.3 L253.6 460.3 L251.4 458.2 L253.6 455.0 L254.7 449.6 L252.5 443.0 L249.3 436.6 L246.0 431.0 L241.0 426.0 L235.0 422.5 L228.8 419.4 L224.0 416.5 L220.5 413.0 L218.0 410.8 L216.0 411.9 L217.0 416.2 L219.0 421.0 L216.0 420.5 L212.6 416.2 L210.5 418.3 L210.0 425.9 L208.3 433.0 L206.5 438.5 L203.0 439.5 L198.0 437.5 L193.0 438.5 L187.0 442.0 L180.0 445.5 L177.0 450.9 L176.9 457.3 L171.8 461.1 L166.7 464.9 L162.9 471.3 L164.2 476.4 L165.4 484.0 L161.6 486.5 L156.5 490.4 L154.0 495.4 L154.0 499.3 L148.9 499.3 L143.8 495.4 L138.7 491.6 L133.6 489.1 L128.5 486.5 L127.3 482.7 L131.1 481.4 L132.4 472.5 L134.9 468.7 L140.0 470.0 L145.1 466.2 L146.4 461.1 L143.8 458.5 L140.0 457.3 L134.9 456.0 L133.6 448.4 L137.4 443.3 L141.3 438.2 L143.8 433.1 L142.5 428.0 L138.7 422.9 L133.6 420.4 L127.3 419.9 L123.4 421.6 L120.9 425.5 L119.6 430.5 L117.1 440.7 L110.7 443.3 L103.1 450.9 L95.5 457.3 L87.8 462.4 L85.3 457.3 L81.5 454.7 L85.3 448.4 L91.6 438.2 L95.5 430.5 L94.2 420.4 L95.5 410.2 L93.4 401.0 L89.5 391.2 L86.6 384.8 L76.8 384.3 L77.7 381.4 L80.7 377.5 L82.6 373.5 L83.6 369.6 L85.6 366.7 L85.6 363.7 L83.6 359.8 L80.7 357.8 L79.2 353.9 L79.7 350.0 L80.0 348.5 L80.0 344.2 L77.3 342.6 L73.0 341.5 L69.8 338.8 L66.6 334.5 L63.3 330.2 L61.7 324.8 L59.0 321.6 L54.7 317.2 L51.5 314.0 L49.3 312.4 L49.8 310.8 L55.2 309.7 L56.9 305.4 L59.5 300.0 L60.5 298.5 L62.6 294.8 L65.9 293.8 L70.2 291.6 L71.3 287.3 L74.5 285.1 L72.3 279.7 L69.1 273.3 L66.9 266.8 L64.8 258.2 L62.6 249.6 L61.6 243.1 L63.7 245.3 L65.9 251.7 L68.0 258.2 L69.1 266.8 L71.3 270.0 L75.6 269.0 L79.9 265.7 L82.0 262.5 L81.0 253.9 L82.0 243.1 L83.1 232.3 L83.3 224.0 L81.4 215.3 L79.4 212.4 L76.5 212.4 L69.6 214.8 L62.7 215.8 L61.8 217.3 L60.8 221.2 L59.3 220.2 L59.3 215.3 L57.8 212.4 L58.8 210.4 L60.8 211.4 L61.8 214.3 L64.7 213.8 L69.1 213.3 L72.1 210.4 L72.4 203.5 L73.0 200.1 L76.5 201.6 L77.5 205.5 L81.9 204.5 L82.4 199.6 L81.9 194.7 L79.4 190.8 L75.5 188.3 L69.6 187.1 L64.7 186.9 L61.8 189.8 L55.9 191.3 L50.0 190.8 L47.8 189.8 L43.0 188.4 L42.4 186.8 L46.5 185.7 L50.6 183.6 L52.6 180.9 L52.0 177.4 L47.8 175.4 L41.7 174.0 L41.0 169.2 L38.2 167.2 L38.2 163.7 L41.0 161.7 L46.5 160.3 L50.6 158.9 L52.0 156.9 L49.2 155.5 L43.7 156.2 L39.6 157.5 L35.5 159.6 L30.0 160.7 L25.0 162.7 L15.0 160.2 L15.0 142.6 L14.1 138.4 L6.3 127.5 L6.3 115.7 L11.0 110.2 L17.3 105.5 L22.0 99.2 L23.5 91.4 L25.1 83.5 L26.7 82.0 L30.6 83.5 L32.9 80.4 L33.7 74.9 L36.9 72.5 L38.4 67.8 L37.6 65.5 L32.9 68.6 L25.9 70.2 L24.3 67.0 L25.1 60.0 L27.5 52.0 Z" fill="none" stroke="#111" stroke-width="1.6" stroke-linejoin="round"/><path d="M306.1 42.0 L308.4 43.2 L312.9 45.5 L315.2 43.2 L319.7 42.0 L326.5 39.8 L331.1 38.2 L337.9 37.5 L344.7 36.8 L349.3 34.1 L356.1 35.2 L362.9 31.8 L369.7 29.5 L376.5 27.3 L381.1 25.0 L383.4 22.7 L387.9 18.2 L394.7 17.0 L399.3 15.9 L400.4 12.5 L403.8 9.1 L412.9 8.6 L416.3 9.1 L417.5 11.4 L445.0 39.0 L473.0 67.5 L476.5 72.5 L476.0 77.5 L472.0 85.0 L471.0 95.0 L470.5 100.0 L469.3 103.5 L465.8 107.0 L464.6 114.1 L462.3 120.0 L459.9 123.5 L459.9 135.3 L461.1 147.0 L462.3 161.1 L463.4 170.5 L463.4 182.3 L464.6 194.0 L464.6 205.8 L467.0 212.8 L469.3 219.9 L470.3 220.2 L475.4 232.9 L479.2 243.1 L481.0 250.7 L481.0 260.9 L480.5 276.2 L480.0 291.5 L480.5 301.7 L481.7 311.9 L486.8 317.0 L489.4 324.6 L488.1 327.1 L480.5 327.6 L475.4 327.1 L472.8 329.7 L475.4 334.8 L480.5 336.0 L482.3 337.0 L488.1 335.9 L492.8 339.4 L489.3 340.6 L485.8 340.6 L491.7 348.8 L494.0 360.6 L495.2 367.6 L501.1 374.7 L508.1 379.4 L517.5 384.1 L524.6 388.8 L528.1 395.8 L531.6 409.9 L536.0 418.5 L540.0 428.3 L542.3 438.5 L542.4 449.6 L540.3 456.0 L536.0 459.3 L530.6 460.3 L528.4 458.2 L530.6 455.0 L531.7 449.6 L529.5 443.0 L526.3 436.6 L523.0 431.0 L518.0 426.0 L512.0 422.5 L505.8 419.4 L501.0 416.5 L497.5 413.0 L495.0 410.8 L493.0 411.9 L494.0 416.2 L496.0 421.0 L493.0 420.5 L489.6 416.2 L487.5 418.3 L487.0 425.9 L485.3 433.0 L483.5 438.5 L480.0 439.5 L475.0 437.5 L470.0 438.5 L464.0 442.0 L457.0 445.5 L454.0 450.9 L453.9 457.3 L448.8 461.1 L443.7 464.9 L439.9 471.3 L441.2 476.4 L442.4 484.0 L438.6 486.5 L433.5 490.4 L431.0 495.4 L431.0 499.3 L425.9 499.3 L420.8 495.4 L415.7 491.6 L410.6 489.1 L405.5 486.5 L404.3 482.7 L408.1 481.4 L409.4 472.5 L411.9 468.7 L417.0 470.0 L422.1 466.2 L423.4 461.1 L420.8 458.5 L417.0 457.3 L411.9 456.0 L410.6 448.4 L414.4 443.3 L418.3 438.2 L420.8 433.1 L419.5 428.0 L415.7 422.9 L410.6 420.4 L404.3 419.9 L400.4 421.6 L397.9 425.5 L396.6 430.5 L394.1 440.7 L387.7 443.3 L380.1 450.9 L372.5 457.3 L364.8 462.4 L362.3 457.3 L358.5 454.7 L362.3 448.4 L368.6 438.2 L372.5 430.5 L371.2 420.4 L372.5 410.2 L370.4 401.0 L366.5 391.2 L363.6 384.8 L353.8 384.3 L354.7 381.4 L357.7 377.5 L359.6 373.5 L360.6 369.6 L362.6 366.7 L362.6 363.7 L360.6 359.8 L357.7 357.8 L356.2 353.9 L356.7 350.0 L357.0 348.5 L357.0 344.2 L354.3 342.6 L350.0 341.5 L346.8 338.8 L343.6 334.5 L340.3 330.2 L338.7 324.8 L336.0 321.6 L331.7 317.2 L328.5 314.0 L326.3 312.4 L326.8 310.8 L332.2 309.7 L333.9 305.4 L336.5 300.0 L337.5 298.5 L339.6 294.8 L342.9 293.8 L347.2 291.6 L348.3 287.3 L351.5 285.1 L349.3 279.7 L346.1 273.3 L343.9 266.8 L341.8 258.2 L339.6 249.6 L338.6 243.1 L340.7 245.3 L342.9 251.7 L345.0 258.2 L346.1 266.8 L348.3 270.0 L352.6 269.0 L356.9 265.7 L359.0 262.5 L358.0 253.9 L359.0 243.1 L360.1 232.3 L360.3 224.0 L358.4 215.3 L356.4 212.4 L353.5 212.4 L346.6 214.8 L339.7 215.8 L338.8 217.3 L337.8 221.2 L336.3 220.2 L336.3 215.3 L334.8 212.4 L335.8 210.4 L337.8 211.4 L338.8 214.3 L341.7 213.8 L346.1 213.3 L349.1 210.4 L349.4 203.5 L350.0 200.1 L353.5 201.6 L354.5 205.5 L358.9 204.5 L359.4 199.6 L358.9 194.7 L356.4 190.8 L352.5 188.3 L346.6 187.1 L341.7 186.9 L338.8 189.8 L332.9 191.3 L327.0 190.8 L324.8 189.8 L320.0 188.4 L319.4 186.8 L323.5 185.7 L327.6 183.6 L329.6 180.9 L329.0 177.4 L324.8 175.4 L318.7 174.0 L318.0 169.2 L315.2 167.2 L315.2 163.7 L318.0 161.7 L323.5 160.3 L327.6 158.9 L329.0 156.9 L326.2 155.5 L320.7 156.2 L316.6 157.5 L312.5 159.6 L307.0 160.7 L302.0 162.7 L292.0 160.2 L292.0 142.6 L291.1 138.4 L283.3 127.5 L283.3 115.7 L288.0 110.2 L294.3 105.5 L299.0 99.2 L300.5 91.4 L302.1 83.5 L303.7 82.0 L307.6 83.5 L309.9 80.4 L310.7 74.9 L313.9 72.5 L315.4 67.8 L314.6 65.5 L309.9 68.6 L302.9 70.2 L301.3 67.0 L302.1 60.0 L304.5 52.0 Z" fill="none" stroke="#111" stroke-width="1.6" stroke-linejoin="round"/><g font-family="'Liberation Sans', Arial, sans-serif" font-size="11.3" fill="#111" stroke="#111" stroke-width="0.25" text-anchor="middle"><text x="0" y="0" dy="0.36em" transform="translate(92 61) rotate(-25)">120</text><text x="0" y="0" dy="0.36em" transform="translate(119.5 111) rotate(0)">70</text><text x="0" y="0" dy="0.36em" transform="translate(174.5 145) rotate(-90)">120</text><text x="0" y="0" dy="0.36em" transform="translate(151.5 156.5) rotate(-50)">70</text><text x="0" y="0" dy="0.36em" transform="translate(163.5 187.5) rotate(45)">70</text><text x="0" y="0" dy="0.36em" transform="translate(91 264.5) rotate(8)">70</text><text x="0" y="0" dy="0.36em" transform="translate(87 288.5) rotate(8)">120</text><text x="0" y="0" dy="0.36em" transform="translate(141 300.5) rotate(12)">70</text><text x="0" y="0" dy="0.36em" transform="translate(198 316) rotate(65)">120</text><text x="0" y="0" dy="0.36em" transform="translate(194 333) rotate(60)">70</text><text x="0" y="0" dy="0.36em" transform="translate(153.5 348) rotate(90)">120</text><text x="0" y="0" dy="0.36em" transform="translate(112 415) rotate(30)">120</text><text x="0" y="0" dy="0.36em" transform="translate(188 405) rotate(-65)">120</text><text x="0" y="0" dy="0.36em" transform="translate(221.5 399.5) rotate(-75)">170</text><text x="0" y="0" dy="0.36em" transform="translate(146 447) rotate(80)">120</text><text x="0" y="0" dy="0.36em" transform="translate(383.5 73.6) rotate(20)">170</text><text x="0" y="0" dy="0.36em" transform="translate(363.8 96.5) rotate(70)">170</text><text x="0" y="0" dy="0.36em" transform="translate(453 147) rotate(50)">220</text><text x="0" y="0" dy="0.36em" transform="translate(443 154) rotate(50)">170</text><text x="0" y="0" dy="0.36em" transform="translate(380.4 256) rotate(-90)">120</text><text x="0" y="0" dy="0.36em" transform="translate(418.8 271) rotate(60)">120</text><text x="0" y="0" dy="0.36em" transform="translate(469 286.6) rotate(20)">220</text><text x="0" y="0" dy="0.36em" transform="translate(351.6 335.7) rotate(30)">170</text><text x="0" y="0" dy="0.36em" transform="translate(466.2 343) rotate(-80)">170</text><text x="0" y="0" dy="0.36em" transform="translate(481 405.5) rotate(60)">170</text><text x="0" y="0" dy="0.36em" transform="translate(430 425.5) rotate(55)">170</text></g><defs><linearGradient id="ga" x1="0" y1="0" x2="0" y2="1"><stop offset="0.0000" stop-color="#eeffff"/><stop offset="0.0476" stop-color="#ccfeff"/><stop offset="0.0476" stop-color="#eeffff"/><stop offset="0.0952" stop-color="#affcff"/><stop offset="0.0952" stop-color="#ccfeff"/><stop offset="0.1429" stop-color="#89fbff"/><stop offset="0.1429" stop-color="#affcff"/><stop offset="0.1905" stop-color="#61f9ff"/><stop offset="0.1905" stop-color="#89fbff"/><stop offset="0.2381" stop-color="#36f6fe"/><stop offset="0.2381" stop-color="#61f9ff"/><stop offset="0.2857" stop-color="#13f2fd"/><stop offset="0.2857" stop-color="#36f6fe"/><stop offset="0.3333" stop-color="#0ce7fb"/><stop offset="0.3333" stop-color="#13f2fd"/><stop offset="0.3810" stop-color="#07dcf8"/><stop offset="0.3810" stop-color="#0ce7fb"/><stop offset="0.4286" stop-color="#0cc8f5"/><stop offset="0.4286" stop-color="#07dcf8"/><stop offset="0.4762" stop-color="#12b4f2"/><stop offset="0.4762" stop-color="#0cc8f5"/><stop offset="0.5238" stop-color="#169ff0"/><stop offset="0.5238" stop-color="#12b4f2"/><stop offset="0.5714" stop-color="#1a8bef"/><stop offset="0.5714" stop-color="#169ff0"/><stop offset="0.6190" stop-color="#1d78ed"/><stop offset="0.6190" stop-color="#1a8bef"/><stop offset="0.6667" stop-color="#2068eb"/><stop offset="0.6667" stop-color="#1d78ed"/><stop offset="0.7143" stop-color="#2358e9"/><stop offset="0.7143" stop-color="#2068eb"/><stop offset="0.7619" stop-color="#2648e5"/><stop offset="0.7619" stop-color="#2358e9"/><stop offset="0.8095" stop-color="#2938e2"/><stop offset="0.8095" stop-color="#2648e5"/><stop offset="0.8571" stop-color="#2c28de"/><stop offset="0.8571" stop-color="#2938e2"/><stop offset="0.9048" stop-color="#2e1dd8"/><stop offset="0.9048" stop-color="#2c28de"/><stop offset="0.9524" stop-color="#2f13d1"/><stop offset="0.9524" stop-color="#2e1dd8"/><stop offset="1.0000" stop-color="#2f13d1"/></linearGradient></defs><rect x="18.5" y="408.2" width="25.1" height="71.8" fill="url(#ga)"/><defs><linearGradient id="gb" x1="0" y1="0" x2="0" y2="1"><stop offset="0.0000" stop-color="#eeffff"/><stop offset="0.0435" stop-color="#cffeff"/><stop offset="0.0435" stop-color="#eeffff"/><stop offset="0.0870" stop-color="#b7fdff"/><stop offset="0.0870" stop-color="#cffeff"/><stop offset="0.1304" stop-color="#94fbff"/><stop offset="0.1304" stop-color="#b7fdff"/><stop offset="0.1739" stop-color="#71faff"/><stop offset="0.1739" stop-color="#94fbff"/><stop offset="0.2174" stop-color="#4bf8ff"/><stop offset="0.2174" stop-color="#71faff"/><stop offset="0.2609" stop-color="#24f5fe"/><stop offset="0.2609" stop-color="#4bf8ff"/><stop offset="0.3043" stop-color="#10eefc"/><stop offset="0.3043" stop-color="#24f5fe"/><stop offset="0.3478" stop-color="#0ae5fa"/><stop offset="0.3478" stop-color="#10eefc"/><stop offset="0.3913" stop-color="#08d9f7"/><stop offset="0.3913" stop-color="#0ae5fa"/><stop offset="0.4348" stop-color="#0dc6f5"/><stop offset="0.4348" stop-color="#08d9f7"/><stop offset="0.4783" stop-color="#12b4f2"/><stop offset="0.4783" stop-color="#0dc6f5"/><stop offset="0.5217" stop-color="#16a1f1"/><stop offset="0.5217" stop-color="#12b4f2"/><stop offset="0.5652" stop-color="#198eef"/><stop offset="0.5652" stop-color="#16a1f1"/><stop offset="0.6087" stop-color="#1d7cee"/><stop offset="0.6087" stop-color="#198eef"/><stop offset="0.6522" stop-color="#1f6eec"/><stop offset="0.6522" stop-color="#1d7cee"/><stop offset="0.6957" stop-color="#225fea"/><stop offset="0.6957" stop-color="#1f6eec"/><stop offset="0.7391" stop-color="#2550e7"/><stop offset="0.7391" stop-color="#225fea"/><stop offset="0.7826" stop-color="#2742e4"/><stop offset="0.7826" stop-color="#2550e7"/><stop offset="0.8261" stop-color="#2a33e0"/><stop offset="0.8261" stop-color="#2742e4"/><stop offset="0.8696" stop-color="#2c26dc"/><stop offset="0.8696" stop-color="#2a33e0"/><stop offset="0.9130" stop-color="#2e1cd7"/><stop offset="0.9130" stop-color="#2c26dc"/><stop offset="0.9565" stop-color="#2f13d1"/><stop offset="0.9565" stop-color="#2e1cd7"/><stop offset="1.0000" stop-color="#2f13d1"/></linearGradient></defs><rect x="296.8" y="394.4" width="32.7" height="76.6" fill="url(#gb)"/><g font-family="'Liberation Sans', Arial, sans-serif" font-weight="bold" fill="#111"><text x="15.2" y="371.9" font-size="13" textLength="42.6" lengthAdjust="spacingAndGlyphs">Aquifer</text><text x="15.2" y="388.5" font-size="13" textLength="76.3" lengthAdjust="spacingAndGlyphs">thickness (m)</text><text x="290.2" y="355.5" font-size="12" textLength="48.5" lengthAdjust="spacingAndGlyphs">Sediment</text><text x="290.2" y="370.3" font-size="12" textLength="66.8" lengthAdjust="spacingAndGlyphs">thickness (m)</text></g><g font-family="'Liberation Sans', Arial, sans-serif" font-size="11.8" fill="#111" stroke="#111" stroke-width="0.2"><text x="47.3" y="409.1" textLength="17.6" lengthAdjust="spacingAndGlyphs">230</text><text x="47.3" y="445.5" textLength="17.6" lengthAdjust="spacingAndGlyphs">130</text><text x="47.3" y="485.4" textLength="11.7" lengthAdjust="spacingAndGlyphs">20</text><text x="333.3" y="395.3" textLength="17.6" lengthAdjust="spacingAndGlyphs">300</text><text x="333.3" y="434.6" textLength="17.6" lengthAdjust="spacingAndGlyphs">190</text><text x="333.3" y="476.7" textLength="11.7" lengthAdjust="spacingAndGlyphs">70</text></g><rect x="60.8" y="146.6" width="2.2" height="1.3" fill="#b04a9a"/><g font-family="'Liberation Serif', 'Times New Roman', serif" font-size="16" fill="#111"><text x="14.7" y="28.9">(a)</text><text x="291.3" y="29.0">(b)</text></g><rect x="453.3" y="478.3" width="57.3" height="10.6" fill="#fff" stroke="#d8d8d8" stroke-width="0.6"/><rect x="394.8" y="478" width="58.5" height="11.1" fill="#000"/><g font-family="'Liberation Serif', 'Times New Roman', serif" font-size="10.3" fill="#111" stroke="#111" stroke-width="0.15"><text x="392.2" y="498.6">0</text><text x="443.2" y="498.6">5000</text><text x="496.3" y="498.6">10.000</text><text x="525.9" y="498.6">cm</text></g><rect x="5.6" y="8.5" width="536" height="492" fill="none" stroke="#8a8a8a" stroke-width="1.1"/></svg>
</body></html>
